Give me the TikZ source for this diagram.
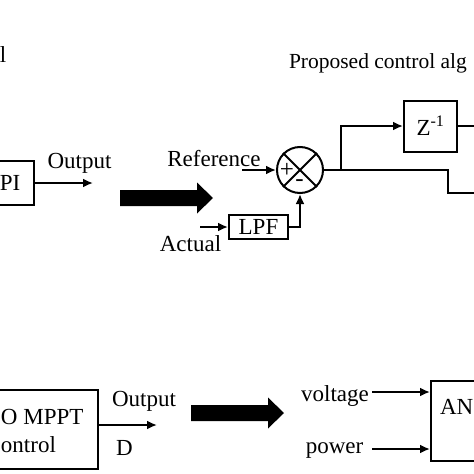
\documentclass[tikz,border=0pt]{standalone}
\usepackage{fontspec}
\setmainfont{Liberation Serif}
\usepackage{tikz}
\usetikzlibrary{arrows.meta}

\begin{document}
\begin{tikzpicture}[
    x=1pt, y=-1pt,
    font=\fontsize{23}{28}\selectfont,
    line width=2pt
]
\tikzset{
    bloco/.style={draw, rectangle, inner sep=2pt},
    seta/.style={-{Latex[length=10pt, width=9pt]}},
    rotulo/.style={anchor=base, inner sep=0pt},
    sinal/.style={inner sep=0pt, font=\fontsize{25}{28}\selectfont}
}
\useasboundingbox (0,0) rectangle (474,474);

% parte de cima
\node[rotulo] (fimTitulo) at (3,62) {l};
\node[rotulo, anchor=base west, font=\fontsize{21.5}{26}\selectfont] (titulo) at (288,68) {Proposed control alg};

\node[bloco, minimum width=48pt, minimum height=44pt] (pi) at (10,183) {PI};
\coordinate (saidaPI) at (93,183);
\draw[seta] (pi.east) -- (saidaPI);
\node[rotulo] (saidaPItxt) at (79.5,168) {Output};

\node[draw, circle, minimum size=46pt, inner sep=0pt] (soma) at (300,170) {};
\draw (soma.north west) -- (soma.south east);
\draw (soma.north east) -- (soma.south west);
\node[sinal] (mais) at (287,170) {+};
\node[sinal] (menos) at (299.5,183.5) {-};

\node[bloco, minimum width=59pt, minimum height=24pt] (lpf) at (258.5,227) {LPF};
\node[bloco, minimum width=53pt, minimum height=51pt] (z) at (430.5,126) {Z\textsuperscript{-1}};

\node[rotulo] (referencia) at (214,166) {Reference};
\node[rotulo] (atual) at (190.5,251) {Actual};

\coordinate (refIn) at (242,170);
\coordinate (atualIn) at (200,227);
\coordinate (ramo) at (341,170);
\coordinate (degrau) at (448,170);
\coordinate (saidaZ) at (480,126);
\coordinate (saidaBaixo) at (480,193);

\draw[seta] (refIn) -- (soma.west);
\draw[seta] (atualIn) -- (lpf.west);
\draw[seta] (lpf.east) -| (soma.south);
\draw (soma.east) -- (ramo);
\draw[seta] (ramo) |- (z.west);
\draw (z.east) -- (saidaZ);
\draw (ramo) -- (degrau) |- (saidaBaixo);

% setas grossas
\foreach \px/\py in {120/198, 191/413}
    \fill (\px,\py) ++(0,-8) -- ++(77,0) -- ++(0,-7.5) -- ++(16,15.5)
        -- ++(-16,15.5) -- ++(0,-7.5) -- ++(-77,0) -- cycle;

% parte de baixo
\node[bloco, minimum width=150pt, minimum height=79pt] (mppt) at (23,429.5) {};
\node[anchor=west, inner sep=0pt, align=left] (mpptTxt) at (0,430.5) {O MPPT\\ontrol};
\coordinate (saidaD) at (157,425);
\draw[seta] (mppt.east |- saidaD) -- (saidaD);
\node[rotulo] (saidaDtxt) at (144,406) {Output};
\node[rotulo] (dTxt) at (124.5,455) {D};

\node[bloco, minimum width=98pt, minimum height=80pt] (ann) at (480,421) {};
\node[rotulo, anchor=base west] (annTxt) at (439,414) {AN};
\coordinate (tensaoIn) at (372,392);
\coordinate (potenciaIn) at (372,449);
\draw[seta] (tensaoIn) -- (tensaoIn -| ann.west);
\draw[seta] (potenciaIn) -- (potenciaIn -| ann.west);
\node[rotulo] (tensao) at (335,401) {voltage};
\node[rotulo] (potencia) at (334.5,453) {power};
\end{tikzpicture}
\end{document}
